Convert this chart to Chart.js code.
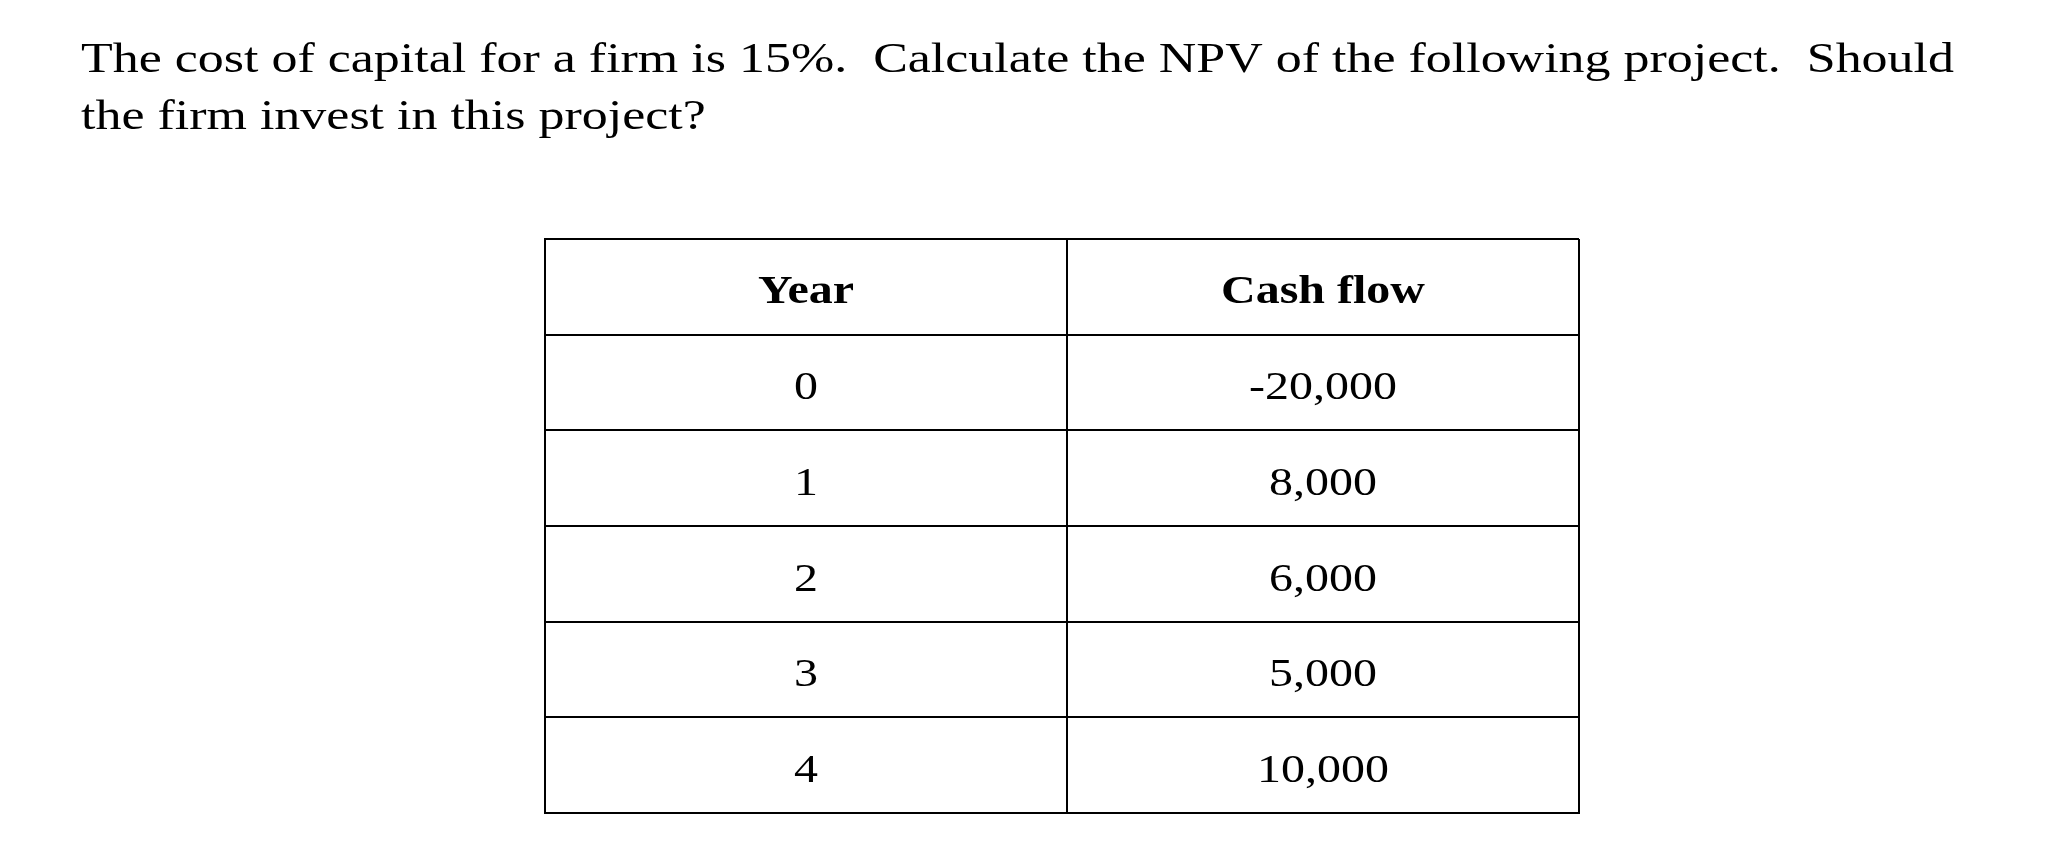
<!DOCTYPE html>
<html><head><meta charset="utf-8">
<script src="https://cdn.jsdelivr.net/npm/chart.js@4"></script>
<style>html,body{margin:0;padding:0;background:#fff}#c{display:block}</style>
</head><body>
<canvas id="c" width="2046" height="868"></canvas>
<script>
const titleLines = ["The cost of capital for a firm is 15%.  Calculate the NPV of the following project.  Should", "the firm invest in this project?"];
const headers = ["Year", "Cash flow"];
const years = ["0", "1", "2", "3", "4"];
const cashFlows = ["-20,000", "8,000", "6,000", "5,000", "10,000"];
const colEdges = [0, 522, 1034];

const pts = [];
const colCenter = i => (colEdges[i] + colEdges[i + 1]) / 2;
headers.forEach((h, i) => pts.push({x: colCenter(i), y: 0.5, t: h, b: true}));
years.forEach((y, r) => pts.push({x: colCenter(0), y: r + 1.5, t: y}));
cashFlows.forEach((v, r) => pts.push({x: colCenter(1), y: r + 1.5, t: v}));

function stretchText(ctx, text, x, y, sx) {
  ctx.save();
  ctx.translate(x, y);
  ctx.scale(sx, 1);
  ctx.fillText(text, 0, 0);
  ctx.restore();
}

const textPlugin = {
  id: 'txt',
  afterDraw(chart) {
    const ctx = chart.ctx;
    ctx.save();
    ctx.fillStyle = '#000';
    ctx.textBaseline = 'alphabetic';
    ctx.textAlign = 'left';
    ctx.font = '43px "Liberation Serif"';
    const w0 = ctx.measureText(titleLines[0]).width;
    const sx = 1873 / w0;
    titleLines.forEach((l, i) => stretchText(ctx, l, 81, 72 + i * 57, sx));
    const meta = chart.getDatasetMeta(0);
    ctx.textAlign = 'center';
    ctx.textBaseline = 'middle';
    meta.data.forEach((el, i) => {
      const p = pts[i];
      ctx.font = (p.b ? 'bold ' : '') + '41px "Liberation Serif"';
      stretchText(ctx, p.t, el.x, el.y + 6, 1.17);
    });
    ctx.restore();
  }
};

new Chart(document.getElementById('c'), {
  type: 'scatter',
  data: {datasets: [{data: pts, pointRadius: 0, pointHoverRadius: 0}]},
  options: {
    responsive: false, animation: false,
    layout: {padding: {left: 545, right: 467, top: 239, bottom: 55}},
    plugins: {legend: {display: false}, tooltip: {enabled: false}, title: {display: false}},
    scales: {
      x: {type: 'linear', min: colEdges[0], max: colEdges[colEdges.length - 1], afterBuildTicks: s => { s.ticks = colEdges.map(v => ({value: v})); },
          ticks: {display: false}, grid: {color: '#000', lineWidth: 2, drawTicks: false}, border: {color: '#000', width: 2}},
      y: {type: 'linear', min: 0, max: 6, reverse: true, afterBuildTicks: s => { s.ticks = [0,1,2,3,4,5,6].map(v => ({value: v})); },
          ticks: {display: false}, grid: {color: '#000', lineWidth: 2, drawTicks: false}, border: {color: '#000', width: 2}}
    }
  },
  plugins: [textPlugin]
});
</script>
</body></html>
